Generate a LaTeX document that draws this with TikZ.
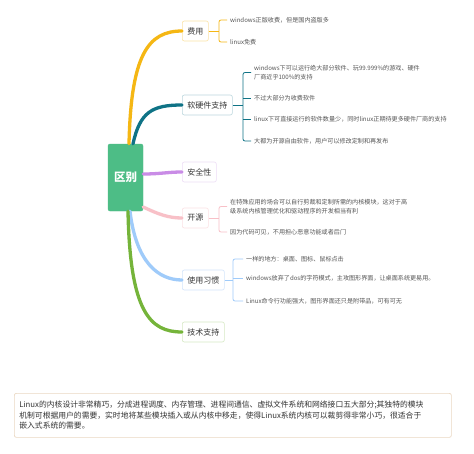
\documentclass[tikz,border=0pt]{standalone}
\usepackage{fontspec}
\setmainfont{Noto Sans CJK SC}
\definecolor{cOr}{HTML}{F5B714}
\definecolor{cTe}{HTML}{0F7386}
\definecolor{cPu}{HTML}{C98CE6}
\definecolor{cPi}{HTML}{F8C0C7}
\definecolor{cBl}{HTML}{9FCBFA}
\definecolor{cGr}{HTML}{75B43A}
\definecolor{lOr}{HTML}{FBE3A6}
\definecolor{lTe}{HTML}{BCD7DE}
\definecolor{lPu}{HTML}{EDDDF6}
\definecolor{lPi}{HTML}{FBE1E4}
\definecolor{lBl}{HTML}{D3E5FB}
\definecolor{lGr}{HTML}{D6E9C4}
\definecolor{cCenter}{HTML}{4DBD86}
\definecolor{txt}{HTML}{333333}
\definecolor{itxt}{HTML}{555555}
\definecolor{noteb}{HTML}{EBD8C2}
\begin{document}
\begin{tikzpicture}[x=1pt,y=-1pt,
  centerbox/.style={fill=cCenter,draw=cCenter,rounded corners=2pt,minimum width=35pt,minimum height=67pt,text=white,font=\fontsize{11.5}{13}\selectfont\bfseries},
  branchbox/.style={fill=white,draw=#1,line width=0.6pt,rounded corners=2pt,minimum height=20pt,inner xsep=5pt,anchor=west,text=txt,font=\fontsize{8}{10}\selectfont},
  item/.style={anchor=west,inner xsep=3pt,inner ysep=0pt,align=left,text=itxt,font=\fontsize{6.1}{9}\selectfont},
  branch/.style={draw=#1,line width=3.3pt,line cap=round},
  bracket/.style={draw=#1,line width=0.8pt,rounded corners=2pt},
  notebox/.style={draw=noteb,line width=0.7pt,rounded corners=2pt,fill=white,anchor=north west,text width=427pt,minimum height=44pt,inner xsep=5pt,inner ysep=4pt,align=left,text=txt,font=\fontsize{7.8}{10.5}\selectfont}
]
\useasboundingbox[fill=white] (0,0) rectangle (474,453);

% center
\node[centerbox] (c) at (125.5,177.5) {区别};

% branch nodes
\node[branchbox=lOr] (fee) at (182,31) {费用};
\node[branchbox=lTe] (soft) at (182,105) {软硬件支持};
\node[branchbox=lPu] (safe) at (182,172) {安全性};
\node[branchbox=lPi] (open) at (182,218) {开源};
\node[branchbox=lBl] (habit) at (182,280) {使用习惯};
\node[branchbox=lGr] (tech) at (182,332) {技术支持};

% main branches
\draw[branch=cOr] ([xshift=3.5pt]c.north) .. controls (131,55) and (148,31) .. (fee.west);
\draw[branch=cTe] ([xshift=7.5pt]c.north) .. controls (140,112) and (152,105) .. (soft.west);
\draw[branch=cPu] ([yshift=3.5pt]c.east) .. controls (160,174) and (168,172) .. (safe.west);
\draw[branch=cPi] ([yshift=-29.5pt]c.east) .. controls (158,214) and (168,218) .. (open.west);
\draw[branch=cBl] ([xshift=4.5pt]c.south) .. controls (136,262) and (158,280) .. (habit.west);
\draw[branch=cGr] ([xshift=2.5pt]c.south) .. controls (130,312) and (150,332) .. (tech.west);

% bracket columns
\coordinate (bxA) at (219,0);
\coordinate (bxB) at (243,0);
\coordinate (bxD) at (219,0);
\coordinate (bxE) at (233,0);

% items: fee
\node[item] (a1) at (227,20) {windows正版收费，但是国内盗版多};
\node[item] (a2) at (227,42) {linux免费};
\draw[bracket=cOr] (fee.east) -- (fee.east -| bxA);
\draw[bracket=cOr] (a1.west) -- (a1.west -| bxA) -- (a2.west -| bxA) -- (a2.west);

% items: soft
\node[item] (b1) at (251,72.5) {windows下可以运行绝大部分软件、玩99.999\%的游戏、硬件\\厂商近乎100\%的支持};
\node[item] (b2) at (251,98) {不过大部分为收费软件};
\node[item] (b3) at (251,119) {linux下可直接运行的软件数量少，同时linux正期待更多硬件厂商的支持};
\node[item] (b4) at (251,141) {大都为开源自由软件，用户可以修改定制和再发布};
\draw[bracket=cTe] (soft.east) -- (soft.east -| bxB);
\draw[bracket=cTe] (b1.west) -- (b1.west -| bxB) -- (b4.west -| bxB) -- (b4.west);
\draw[bracket=cTe] (b2.west -| bxB) -- (b2.west);
\draw[bracket=cTe] (b3.west -| bxB) -- (b3.west);

% items: open
\node[item] (d1) at (227,206.5) {在特殊应用的场合可以自行剪裁和定制所需的内核模块，这对于高\\级系统内核管理优化和驱动程序的开发相当有利};
\node[item] (d2) at (227,232) {因为代码可见，不用担心恶意功能或者后门};
\draw[bracket=cPi] (open.east) -- (open.east -| bxD);
\draw[bracket=cPi] (d1.west) -- (d1.west -| bxD) -- (d2.west -| bxD) -- (d2.west);

% items: habit
\node[item] (e1) at (243,259) {一样的地方：桌面、图标、鼠标点击};
\node[item] (e2) at (243,278) {windows放弃了dos的字符模式，主攻图形界面，让桌面系统更易用。};
\node[item] (e3) at (243,301) {Linux命令行功能强大，图形界面还只是附带品，可有可无};
\draw[bracket=cBl] (habit.east) -- (habit.east -| bxE);
\draw[bracket=cBl] (e1.west) -- (e1.west -| bxE) -- (e3.west -| bxE) -- (e3.west);
\draw[bracket=cBl] (e2.west -| bxE) -- (e2.west);

% note
\node[notebox] (note) at (14,393) {Linux的内核设计非常精巧，分成进程调度、内存管理、进程间通信、虚拟文件系统和网络接口五大部分;其独特的模块\\机制可根据用户的需要，实时地将某些模块插入或从内核中移走，使得Linux系统内核可以裁剪得非常小巧，很适合于\\嵌入式系统的需要。};
\end{tikzpicture}
\end{document}
